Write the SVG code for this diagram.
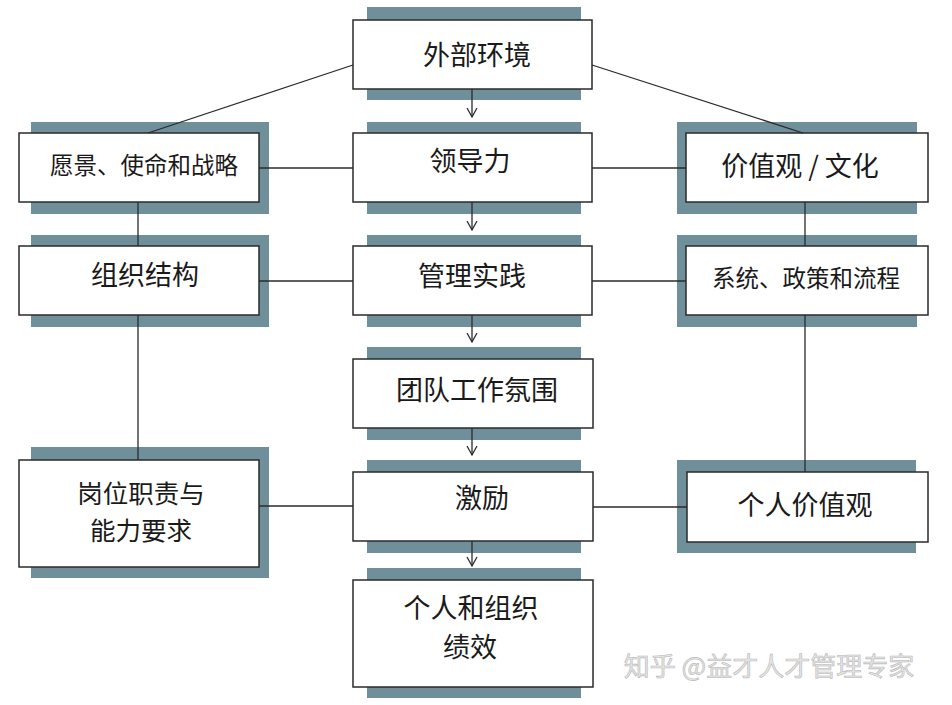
<svg xmlns="http://www.w3.org/2000/svg" width="952" height="705" viewBox="0 0 952 705">
<defs>
<style>
.sh{fill:#6f909b}
.bx{fill:#ffffff;stroke:#2a2a2a;stroke-width:1.5}
.t{font-family:"Noto Sans CJK SC","Noto Sans",sans-serif;fill:#1a1a1a;text-anchor:middle;font-size:27px}
.s{font-size:23.5px}
.m{font-size:25.5px}
.ln{stroke:#2a2a2a;stroke-width:1.3;fill:none}
.wm{font-family:"Noto Sans CJK SC",sans-serif;font-size:26px;fill:#e6e6e6;stroke:#b8b8b8;stroke-width:0.6;text-anchor:middle}
</style>
<marker id="ah" markerWidth="12" markerHeight="12" refX="10" refY="6" orient="auto" markerUnits="userSpaceOnUse">
<path d="M1,1 L10,6 L1,11" fill="none" stroke="#2a2a2a" stroke-width="1.3"/>
</marker>
</defs>
<rect width="952" height="705" fill="#ffffff"/>
<g id="n-env"><rect class="sh" x="367" y="7" width="214" height="93"/><rect class="bx" x="353" y="20" width="239" height="69"/><text class="t" x="477" y="65">外部环境</text></g>
<g id="n-vision"><rect class="sh" x="31" y="122" width="238" height="92"/><rect class="bx" x="19" y="133" width="240" height="69"/><text class="t s" x="144" y="174">愿景、使命和战略</text></g>
<g id="n-lead"><rect class="sh" x="367" y="122" width="214" height="92"/><rect class="bx" x="353" y="133" width="239" height="69"/><text class="t" x="470" y="171">领导力</text></g>
<g id="n-value"><rect class="sh" x="677" y="122" width="240" height="92"/><rect class="bx" x="686" y="133" width="242" height="69"/><text class="t" x="800" y="176">价值观 / 文化</text></g>
<g id="n-org"><rect class="sh" x="31" y="235" width="238" height="92"/><rect class="bx" x="19" y="246" width="240" height="69"/><text class="t" x="145" y="285">组织结构</text></g>
<g id="n-mgmt"><rect class="sh" x="367" y="235" width="214" height="92"/><rect class="bx" x="353" y="246" width="239" height="69"/><text class="t" x="472" y="286">管理实践</text></g>
<g id="n-sys"><rect class="sh" x="677" y="235" width="240" height="92"/><rect class="bx" x="686" y="246" width="242" height="69"/><text class="t s" x="806" y="287">系统、政策和流程</text></g>
<g id="n-team"><rect class="sh" x="367" y="347" width="214" height="93"/><rect class="bx" x="353" y="359" width="240" height="69"/><text class="t" x="477" y="400">团队工作氛围</text></g>
<g id="n-job"><rect class="sh" x="31" y="447" width="238" height="131"/><rect class="bx" x="19" y="460" width="240" height="107"/><text class="t m" x="141" y="503">岗位职责与</text><text class="t m" x="141" y="540">能力要求</text></g>
<g id="n-motiv"><rect class="sh" x="367" y="460" width="214" height="93"/><rect class="bx" x="353" y="472" width="240" height="69"/><text class="t" x="482" y="508">激励</text></g>
<g id="n-pval"><rect class="sh" x="677" y="460" width="239" height="93"/><rect class="bx" x="687" y="472" width="241" height="70"/><text class="t" x="805" y="515">个人价值观</text></g>
<g id="n-perf"><rect class="sh" x="367" y="568" width="214" height="130"/><rect class="bx" x="353" y="580" width="240" height="107"/><text class="t" x="471" y="618">个人和组织</text><text class="t" x="470" y="657">绩效</text></g>
<g id="connectors">
<line class="ln" x1="353" y1="65" x2="148" y2="133"/>
<line class="ln" x1="592" y1="65" x2="803" y2="133"/>
<line class="ln" x1="472" y1="89" x2="472" y2="117" marker-end="url(#ah)"/>
<line class="ln" x1="472" y1="202" x2="472" y2="230" marker-end="url(#ah)"/>
<line class="ln" x1="472" y1="315" x2="472" y2="342" marker-end="url(#ah)"/>
<line class="ln" x1="472" y1="428" x2="472" y2="455" marker-end="url(#ah)"/>
<line class="ln" x1="472" y1="541" x2="472" y2="566" marker-end="url(#ah)"/>
<line class="ln" x1="259" y1="168" x2="353" y2="168"/>
<line class="ln" x1="592" y1="168" x2="686" y2="168"/>
<line class="ln" x1="259" y1="281" x2="353" y2="281"/>
<line class="ln" x1="592" y1="281" x2="686" y2="281"/>
<line class="ln" x1="259" y1="506" x2="353" y2="506"/>
<line class="ln" x1="593" y1="507" x2="687" y2="507"/>
<line class="ln" x1="138" y1="202" x2="138" y2="246"/>
<line class="ln" x1="138" y1="315" x2="138" y2="460"/>
<line class="ln" x1="805" y1="202" x2="805" y2="246"/>
<line class="ln" x1="805" y1="315" x2="805" y2="472"/>
</g>
<text class="wm" x="769" y="676">知乎 @益才人才管理专家</text>
</svg>
